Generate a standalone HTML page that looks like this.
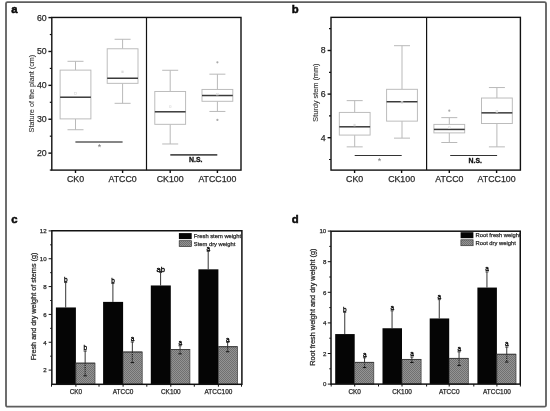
<!DOCTYPE html>
<html><head><meta charset="utf-8"><title>Figure</title>
<style>
html,body{margin:0;padding:0;background:#fff;}
svg{display:block;font-family:'Liberation Sans', Arial, sans-serif;}
</style></head><body>
<svg width="550" height="411" viewBox="0 0 550 411">
<rect width="550" height="411" fill="#fff"/>
<rect x="6.00" y="2.10" width="540.00" height="404.60" fill="#fff" stroke="#5e5e5e" stroke-width="1.8" rx="1.5"/>
<rect x="51.80" y="17.45" width="189.20" height="152.65" fill="none" stroke="#111" stroke-width="1.4" />
<line x1="146.50" y1="17.45" x2="146.50" y2="170.10" stroke="#111" stroke-width="1.2" />
<line x1="48.40" y1="17.60" x2="51.80" y2="17.60" stroke="#111" stroke-width="1.4" />
<text x="46.70" y="20.50" font-size="8.75" text-anchor="end" font-weight="normal" fill="#222" stroke="#333" stroke-width="0.25">60</text>
<line x1="48.40" y1="51.48" x2="51.80" y2="51.48" stroke="#111" stroke-width="1.4" />
<text x="46.70" y="54.38" font-size="8.75" text-anchor="end" font-weight="normal" fill="#222" stroke="#333" stroke-width="0.25">50</text>
<line x1="48.40" y1="85.36" x2="51.80" y2="85.36" stroke="#111" stroke-width="1.4" />
<text x="46.70" y="88.26" font-size="8.75" text-anchor="end" font-weight="normal" fill="#222" stroke="#333" stroke-width="0.25">40</text>
<line x1="48.40" y1="119.24" x2="51.80" y2="119.24" stroke="#111" stroke-width="1.4" />
<text x="46.70" y="122.14" font-size="8.75" text-anchor="end" font-weight="normal" fill="#222" stroke="#333" stroke-width="0.25">30</text>
<line x1="48.40" y1="153.12" x2="51.80" y2="153.12" stroke="#111" stroke-width="1.4" />
<text x="46.70" y="156.02" font-size="8.75" text-anchor="end" font-weight="normal" fill="#222" stroke="#333" stroke-width="0.25">20</text>
<line x1="49.80" y1="34.54" x2="51.80" y2="34.54" stroke="#111" stroke-width="1.2" />
<line x1="49.80" y1="68.42" x2="51.80" y2="68.42" stroke="#111" stroke-width="1.2" />
<line x1="49.80" y1="102.30" x2="51.80" y2="102.30" stroke="#111" stroke-width="1.2" />
<line x1="49.80" y1="136.18" x2="51.80" y2="136.18" stroke="#111" stroke-width="1.2" />
<line x1="49.80" y1="170.06" x2="51.80" y2="170.06" stroke="#111" stroke-width="1.2" />
<line x1="75.50" y1="170.10" x2="75.50" y2="173.00" stroke="#111" stroke-width="1.4" />
<text x="75.50" y="181.60" font-size="8.8" text-anchor="middle" font-weight="normal" fill="#222" stroke="#333" stroke-width="0.25">CK0</text>
<line x1="122.60" y1="170.10" x2="122.60" y2="173.00" stroke="#111" stroke-width="1.4" />
<text x="122.60" y="181.60" font-size="8.8" text-anchor="middle" font-weight="normal" fill="#222" stroke="#333" stroke-width="0.25">ATCC0</text>
<line x1="170.20" y1="170.10" x2="170.20" y2="173.00" stroke="#111" stroke-width="1.4" />
<text x="170.20" y="181.60" font-size="8.8" text-anchor="middle" font-weight="normal" fill="#222" stroke="#333" stroke-width="0.25">CK100</text>
<line x1="217.40" y1="170.10" x2="217.40" y2="173.00" stroke="#111" stroke-width="1.4" />
<text x="217.40" y="181.60" font-size="8.8" text-anchor="middle" font-weight="normal" fill="#222" stroke="#333" stroke-width="0.25">ATCC100</text>
<text x="33.60" y="93.60" font-size="6.9" text-anchor="middle" font-weight="normal" fill="#333" transform="rotate(-90 33.60 93.60)" textLength="77.7" lengthAdjust="spacingAndGlyphs" stroke="#444" stroke-width="0.12">Stature of the plant (cm)</text>
<line x1="75.50" y1="61.31" x2="75.50" y2="70.11" stroke="#b9b9b9" stroke-width="1.0" />
<line x1="75.50" y1="118.90" x2="75.50" y2="129.74" stroke="#b9b9b9" stroke-width="1.0" />
<line x1="67.50" y1="61.31" x2="83.50" y2="61.31" stroke="#b9b9b9" stroke-width="1.0" />
<line x1="67.50" y1="129.74" x2="83.50" y2="129.74" stroke="#b9b9b9" stroke-width="1.0" />
<rect x="60.10" y="70.11" width="30.80" height="48.79" fill="#fff" stroke="#b9b9b9" stroke-width="0.95" />
<line x1="60.10" y1="97.22" x2="90.90" y2="97.22" stroke="#3a3a3a" stroke-width="1.5" />
<rect x="74.60" y="92.59" width="1.80" height="1.80" fill="none" stroke="#dedede" stroke-width="0.6" />
<line x1="122.60" y1="39.28" x2="122.60" y2="48.77" stroke="#b9b9b9" stroke-width="1.0" />
<line x1="122.60" y1="83.33" x2="122.60" y2="103.32" stroke="#b9b9b9" stroke-width="1.0" />
<line x1="114.60" y1="39.28" x2="130.60" y2="39.28" stroke="#b9b9b9" stroke-width="1.0" />
<line x1="114.60" y1="103.32" x2="130.60" y2="103.32" stroke="#b9b9b9" stroke-width="1.0" />
<rect x="107.20" y="48.77" width="30.80" height="34.56" fill="#fff" stroke="#b9b9b9" stroke-width="0.95" />
<line x1="107.20" y1="78.25" x2="138.00" y2="78.25" stroke="#3a3a3a" stroke-width="1.5" />
<rect x="121.70" y="70.91" width="1.80" height="1.80" fill="none" stroke="#dedede" stroke-width="0.6" />
<line x1="170.20" y1="70.28" x2="170.20" y2="91.46" stroke="#b9b9b9" stroke-width="1.0" />
<line x1="170.20" y1="124.32" x2="170.20" y2="143.97" stroke="#b9b9b9" stroke-width="1.0" />
<line x1="162.20" y1="70.28" x2="178.20" y2="70.28" stroke="#b9b9b9" stroke-width="1.0" />
<line x1="162.20" y1="143.97" x2="178.20" y2="143.97" stroke="#b9b9b9" stroke-width="1.0" />
<rect x="154.80" y="91.46" width="30.80" height="32.86" fill="#fff" stroke="#b9b9b9" stroke-width="0.95" />
<line x1="154.80" y1="111.79" x2="185.60" y2="111.79" stroke="#3a3a3a" stroke-width="1.5" />
<rect x="169.30" y="105.80" width="1.80" height="1.80" fill="none" stroke="#dedede" stroke-width="0.6" />
<line x1="217.40" y1="74.18" x2="217.40" y2="89.43" stroke="#b9b9b9" stroke-width="1.0" />
<line x1="217.40" y1="101.28" x2="217.40" y2="111.45" stroke="#b9b9b9" stroke-width="1.0" />
<line x1="209.40" y1="74.18" x2="225.40" y2="74.18" stroke="#b9b9b9" stroke-width="1.0" />
<line x1="209.40" y1="111.45" x2="225.40" y2="111.45" stroke="#b9b9b9" stroke-width="1.0" />
<rect x="202.00" y="89.43" width="30.80" height="11.86" fill="#fff" stroke="#b9b9b9" stroke-width="0.95" />
<line x1="202.00" y1="95.52" x2="232.80" y2="95.52" stroke="#3a3a3a" stroke-width="1.5" />
<rect x="216.50" y="93.27" width="1.80" height="1.80" fill="none" stroke="#dedede" stroke-width="0.6" />
<circle cx="217.40" cy="62.32" r="1.1" fill="#aaa"/>
<circle cx="217.40" cy="119.92" r="1.1" fill="#aaa"/>
<line x1="75.40" y1="142.00" x2="122.60" y2="142.00" stroke="#5e5e5e" stroke-width="1.6" />
<text x="99.60" y="149.70" font-size="9" text-anchor="middle" font-weight="normal" fill="#777" >*</text>
<line x1="170.30" y1="154.90" x2="217.30" y2="154.90" stroke="#505050" stroke-width="1.6" />
<text x="195.80" y="162.20" font-size="6.9" text-anchor="middle" font-weight="bold" fill="#111" stroke="#111" stroke-width="0.3">N.S.</text>
<text x="11.30" y="12.60" font-size="11.3" text-anchor="start" font-weight="bold" fill="#0a0a0a" stroke="#0a0a0a" stroke-width="0.5">a</text>
<rect x="331.00" y="17.35" width="189.40" height="152.75" fill="none" stroke="#111" stroke-width="1.4" />
<line x1="426.60" y1="17.35" x2="426.60" y2="170.10" stroke="#111" stroke-width="1.2" />
<line x1="327.60" y1="50.50" x2="331.00" y2="50.50" stroke="#111" stroke-width="1.4" />
<text x="325.60" y="53.40" font-size="8.75" text-anchor="end" font-weight="normal" fill="#222" stroke="#333" stroke-width="0.25">8</text>
<line x1="327.60" y1="94.10" x2="331.00" y2="94.10" stroke="#111" stroke-width="1.4" />
<text x="325.60" y="97.00" font-size="8.75" text-anchor="end" font-weight="normal" fill="#222" stroke="#333" stroke-width="0.25">6</text>
<line x1="327.60" y1="137.70" x2="331.00" y2="137.70" stroke="#111" stroke-width="1.4" />
<text x="325.60" y="140.60" font-size="8.75" text-anchor="end" font-weight="normal" fill="#222" stroke="#333" stroke-width="0.25">4</text>
<line x1="329.00" y1="28.70" x2="331.00" y2="28.70" stroke="#111" stroke-width="1.2" />
<line x1="329.00" y1="72.30" x2="331.00" y2="72.30" stroke="#111" stroke-width="1.2" />
<line x1="329.00" y1="115.90" x2="331.00" y2="115.90" stroke="#111" stroke-width="1.2" />
<line x1="329.00" y1="159.50" x2="331.00" y2="159.50" stroke="#111" stroke-width="1.2" />
<line x1="354.60" y1="170.10" x2="354.60" y2="173.00" stroke="#111" stroke-width="1.4" />
<text x="354.60" y="181.60" font-size="8.8" text-anchor="middle" font-weight="normal" fill="#222" stroke="#333" stroke-width="0.25">CK0</text>
<line x1="401.60" y1="170.10" x2="401.60" y2="173.00" stroke="#111" stroke-width="1.4" />
<text x="401.60" y="181.60" font-size="8.8" text-anchor="middle" font-weight="normal" fill="#222" stroke="#333" stroke-width="0.25">CK100</text>
<line x1="449.30" y1="170.10" x2="449.30" y2="173.00" stroke="#111" stroke-width="1.4" />
<text x="449.30" y="181.60" font-size="8.8" text-anchor="middle" font-weight="normal" fill="#222" stroke="#333" stroke-width="0.25">ATCC0</text>
<line x1="496.60" y1="170.10" x2="496.60" y2="173.00" stroke="#111" stroke-width="1.4" />
<text x="496.60" y="181.60" font-size="8.8" text-anchor="middle" font-weight="normal" fill="#222" stroke="#333" stroke-width="0.25">ATCC100</text>
<text x="318.00" y="92.60" font-size="6.9" text-anchor="middle" font-weight="normal" fill="#333" transform="rotate(-90 318.00 92.60)" textLength="58.3" lengthAdjust="spacingAndGlyphs" stroke="#444" stroke-width="0.12">Sturdy stem (mm)</text>
<line x1="354.70" y1="100.64" x2="354.70" y2="112.41" stroke="#b9b9b9" stroke-width="1.0" />
<line x1="354.70" y1="135.08" x2="354.70" y2="146.86" stroke="#b9b9b9" stroke-width="1.0" />
<line x1="346.70" y1="100.64" x2="362.70" y2="100.64" stroke="#b9b9b9" stroke-width="1.0" />
<line x1="346.70" y1="146.86" x2="362.70" y2="146.86" stroke="#b9b9b9" stroke-width="1.0" />
<rect x="339.30" y="112.41" width="30.80" height="22.67" fill="#fff" stroke="#b9b9b9" stroke-width="0.95" />
<line x1="339.30" y1="126.80" x2="370.10" y2="126.80" stroke="#3a3a3a" stroke-width="1.5" />
<rect x="353.80" y="124.16" width="1.80" height="1.80" fill="none" stroke="#dedede" stroke-width="0.6" />
<line x1="402.00" y1="45.70" x2="402.00" y2="89.30" stroke="#b9b9b9" stroke-width="1.0" />
<line x1="402.00" y1="121.13" x2="402.00" y2="138.14" stroke="#b9b9b9" stroke-width="1.0" />
<line x1="394.00" y1="45.70" x2="410.00" y2="45.70" stroke="#b9b9b9" stroke-width="1.0" />
<line x1="394.00" y1="138.14" x2="410.00" y2="138.14" stroke="#b9b9b9" stroke-width="1.0" />
<rect x="386.60" y="89.30" width="30.80" height="31.83" fill="#fff" stroke="#b9b9b9" stroke-width="0.95" />
<line x1="386.60" y1="101.73" x2="417.40" y2="101.73" stroke="#3a3a3a" stroke-width="1.5" />
<rect x="401.10" y="101.48" width="1.80" height="1.80" fill="none" stroke="#dedede" stroke-width="0.6" />
<line x1="449.30" y1="117.64" x2="449.30" y2="124.40" stroke="#b9b9b9" stroke-width="1.0" />
<line x1="449.30" y1="132.90" x2="449.30" y2="142.50" stroke="#b9b9b9" stroke-width="1.0" />
<line x1="441.30" y1="117.64" x2="457.30" y2="117.64" stroke="#b9b9b9" stroke-width="1.0" />
<line x1="441.30" y1="142.50" x2="457.30" y2="142.50" stroke="#b9b9b9" stroke-width="1.0" />
<rect x="433.90" y="124.40" width="30.80" height="8.50" fill="#fff" stroke="#b9b9b9" stroke-width="0.95" />
<line x1="433.90" y1="129.42" x2="464.70" y2="129.42" stroke="#3a3a3a" stroke-width="1.5" />
<rect x="448.40" y="126.77" width="1.80" height="1.80" fill="none" stroke="#dedede" stroke-width="0.6" />
<circle cx="449.30" cy="110.67" r="1.1" fill="#aaa"/>
<line x1="496.90" y1="87.56" x2="496.90" y2="98.02" stroke="#b9b9b9" stroke-width="1.0" />
<line x1="496.90" y1="123.53" x2="496.90" y2="146.86" stroke="#b9b9b9" stroke-width="1.0" />
<line x1="488.90" y1="87.56" x2="504.90" y2="87.56" stroke="#b9b9b9" stroke-width="1.0" />
<line x1="488.90" y1="146.86" x2="504.90" y2="146.86" stroke="#b9b9b9" stroke-width="1.0" />
<rect x="481.50" y="98.02" width="30.80" height="25.51" fill="#fff" stroke="#b9b9b9" stroke-width="0.95" />
<line x1="481.50" y1="112.85" x2="512.30" y2="112.85" stroke="#3a3a3a" stroke-width="1.5" />
<rect x="496.00" y="110.64" width="1.80" height="1.80" fill="none" stroke="#dedede" stroke-width="0.6" />
<line x1="354.70" y1="155.50" x2="401.70" y2="155.50" stroke="#333" stroke-width="1.2" />
<text x="379.40" y="163.70" font-size="9" text-anchor="middle" font-weight="normal" fill="#777" >*</text>
<line x1="450.20" y1="155.50" x2="497.10" y2="155.50" stroke="#333" stroke-width="1.2" />
<text x="475.20" y="163.20" font-size="6.9" text-anchor="middle" font-weight="bold" fill="#111" stroke="#111" stroke-width="0.3">N.S.</text>
<text x="291.70" y="12.70" font-size="11.3" text-anchor="start" font-weight="bold" fill="#0a0a0a" stroke="#0a0a0a" stroke-width="0.5">b</text>
<defs><pattern id="h" width="2" height="2" patternUnits="userSpaceOnUse"><rect width="2" height="2" fill="#939393"/><rect width="1" height="1" fill="#707070"/><rect x="1" y="1" width="1" height="1" fill="#707070"/></pattern></defs>
<line x1="65.70" y1="307.46" x2="65.70" y2="282.54" stroke="#2a2a2a" stroke-width="0.95" />
<line x1="64.20" y1="282.54" x2="67.20" y2="282.54" stroke="#222" stroke-width="0.8" />
<rect x="55.90" y="307.46" width="20.00" height="76.84" fill="#050505" stroke="none" stroke-width="1" />
<text transform="translate(65.85 281.94) scale(0.8 1)" font-size="8.1" text-anchor="middle" fill="#000" stroke="#000" stroke-width="0.35">b</text>
<rect x="75.90" y="363.14" width="19.10" height="21.16" fill="url(#h)" stroke="#3a3a3a" stroke-width="0.7" />
<line x1="85.15" y1="351.03" x2="85.15" y2="363.14" stroke="#2a2a2a" stroke-width="0.95" />
<line x1="85.15" y1="363.14" x2="85.15" y2="375.85" stroke="#111" stroke-width="1.1" stroke-dasharray="1 0.9"/>
<line x1="83.55" y1="351.03" x2="86.75" y2="351.03" stroke="#222" stroke-width="0.9" />
<line x1="83.45" y1="375.85" x2="86.85" y2="375.85" stroke="#111" stroke-width="1.0" />
<line x1="75.90" y1="363.14" x2="95.00" y2="363.14" stroke="#3a3a3a" stroke-width="0.9" />
<text transform="translate(85.30 350.43) scale(0.8 1)" font-size="8.1" text-anchor="middle" fill="#000" stroke="#000" stroke-width="0.35">b</text>
<text x="75.90" y="394.30" font-size="6.45" text-anchor="middle" font-weight="normal" fill="#111" stroke="#333" stroke-width="0.25">CK0</text>
<line x1="75.90" y1="384.30" x2="75.90" y2="386.70" stroke="#111" stroke-width="1.0" />
<line x1="112.90" y1="301.89" x2="112.90" y2="283.52" stroke="#2a2a2a" stroke-width="0.95" />
<line x1="111.40" y1="283.52" x2="114.40" y2="283.52" stroke="#222" stroke-width="0.8" />
<rect x="103.10" y="301.89" width="20.00" height="82.41" fill="#050505" stroke="none" stroke-width="1" />
<text transform="translate(113.05 282.92) scale(0.8 1)" font-size="8.1" text-anchor="middle" fill="#000" stroke="#000" stroke-width="0.35">b</text>
<rect x="123.10" y="352.00" width="19.10" height="32.30" fill="url(#h)" stroke="#3a3a3a" stroke-width="0.7" />
<line x1="132.35" y1="341.98" x2="132.35" y2="352.00" stroke="#2a2a2a" stroke-width="0.95" />
<line x1="132.35" y1="352.00" x2="132.35" y2="362.63" stroke="#111" stroke-width="1.1" stroke-dasharray="1 0.9"/>
<line x1="130.75" y1="341.98" x2="133.95" y2="341.98" stroke="#222" stroke-width="0.9" />
<line x1="130.65" y1="362.63" x2="134.05" y2="362.63" stroke="#111" stroke-width="1.0" />
<line x1="123.10" y1="352.00" x2="142.20" y2="352.00" stroke="#3a3a3a" stroke-width="0.9" />
<text transform="translate(132.50 341.38) scale(0.8 1)" font-size="8.1" text-anchor="middle" fill="#000" stroke="#000" stroke-width="0.35">a</text>
<text x="123.10" y="394.30" font-size="6.45" text-anchor="middle" font-weight="normal" fill="#111" stroke="#333" stroke-width="0.25">ATCC0</text>
<line x1="123.10" y1="384.30" x2="123.10" y2="386.70" stroke="#111" stroke-width="1.0" />
<line x1="160.60" y1="285.47" x2="160.60" y2="272.52" stroke="#2a2a2a" stroke-width="0.95" />
<line x1="159.10" y1="272.52" x2="162.10" y2="272.52" stroke="#222" stroke-width="0.8" />
<rect x="150.80" y="285.47" width="20.00" height="98.83" fill="#050505" stroke="none" stroke-width="1" />
<text transform="translate(160.75 271.92) scale(0.95 1)" font-size="8.1" text-anchor="middle" fill="#000" stroke="#000" stroke-width="0.35">ab</text>
<rect x="170.80" y="349.50" width="19.10" height="34.80" fill="url(#h)" stroke="#3a3a3a" stroke-width="0.7" />
<line x1="180.05" y1="345.74" x2="180.05" y2="349.50" stroke="#2a2a2a" stroke-width="0.95" />
<line x1="180.05" y1="349.50" x2="180.05" y2="353.86" stroke="#111" stroke-width="1.1" stroke-dasharray="1 0.9"/>
<line x1="178.45" y1="345.74" x2="181.65" y2="345.74" stroke="#222" stroke-width="0.9" />
<line x1="178.35" y1="353.86" x2="181.75" y2="353.86" stroke="#111" stroke-width="1.0" />
<line x1="170.80" y1="349.50" x2="189.90" y2="349.50" stroke="#3a3a3a" stroke-width="0.9" />
<text transform="translate(180.20 345.14) scale(0.8 1)" font-size="8.1" text-anchor="middle" fill="#000" stroke="#000" stroke-width="0.35">a</text>
<text x="170.80" y="394.30" font-size="6.45" text-anchor="middle" font-weight="normal" fill="#111" stroke="#333" stroke-width="0.25">CK100</text>
<line x1="170.80" y1="384.30" x2="170.80" y2="386.70" stroke="#111" stroke-width="1.0" />
<line x1="208.20" y1="269.32" x2="208.20" y2="251.36" stroke="#2a2a2a" stroke-width="0.95" />
<line x1="206.70" y1="251.36" x2="209.70" y2="251.36" stroke="#222" stroke-width="0.8" />
<rect x="198.40" y="269.32" width="20.00" height="114.98" fill="#050505" stroke="none" stroke-width="1" />
<text transform="translate(208.35 250.76) scale(0.8 1)" font-size="8.1" text-anchor="middle" fill="#000" stroke="#000" stroke-width="0.35">a</text>
<rect x="218.40" y="346.71" width="19.10" height="37.59" fill="url(#h)" stroke="#3a3a3a" stroke-width="0.7" />
<line x1="227.65" y1="342.26" x2="227.65" y2="346.71" stroke="#2a2a2a" stroke-width="0.95" />
<line x1="227.65" y1="346.71" x2="227.65" y2="351.77" stroke="#111" stroke-width="1.1" stroke-dasharray="1 0.9"/>
<line x1="226.05" y1="342.26" x2="229.25" y2="342.26" stroke="#222" stroke-width="0.9" />
<line x1="225.95" y1="351.77" x2="229.35" y2="351.77" stroke="#111" stroke-width="1.0" />
<line x1="218.40" y1="346.71" x2="237.50" y2="346.71" stroke="#3a3a3a" stroke-width="0.9" />
<text transform="translate(227.80 341.66) scale(0.8 1)" font-size="8.1" text-anchor="middle" fill="#000" stroke="#000" stroke-width="0.35">a</text>
<text x="218.40" y="394.30" font-size="6.45" text-anchor="middle" font-weight="normal" fill="#111" stroke="#333" stroke-width="0.25">ATCC100</text>
<line x1="218.40" y1="384.30" x2="218.40" y2="386.70" stroke="#111" stroke-width="1.0" />
<rect x="51.85" y="230.75" width="190.05" height="153.55" fill="none" stroke="#111" stroke-width="1.5" />
<line x1="48.65" y1="230.90" x2="51.85" y2="230.90" stroke="#111" stroke-width="1.0" />
<text x="46.60" y="233.15" font-size="6.15" text-anchor="end" font-weight="normal" fill="#111" stroke="#333" stroke-width="0.25">12</text>
<line x1="48.65" y1="258.74" x2="51.85" y2="258.74" stroke="#111" stroke-width="1.0" />
<text x="46.60" y="260.99" font-size="6.15" text-anchor="end" font-weight="normal" fill="#111" stroke="#333" stroke-width="0.25">10</text>
<line x1="48.65" y1="286.58" x2="51.85" y2="286.58" stroke="#111" stroke-width="1.0" />
<text x="46.60" y="288.83" font-size="6.15" text-anchor="end" font-weight="normal" fill="#111" stroke="#333" stroke-width="0.25">8</text>
<line x1="48.65" y1="314.42" x2="51.85" y2="314.42" stroke="#111" stroke-width="1.0" />
<text x="46.60" y="316.67" font-size="6.15" text-anchor="end" font-weight="normal" fill="#111" stroke="#333" stroke-width="0.25">6</text>
<line x1="48.65" y1="342.26" x2="51.85" y2="342.26" stroke="#111" stroke-width="1.0" />
<text x="46.60" y="344.51" font-size="6.15" text-anchor="end" font-weight="normal" fill="#111" stroke="#333" stroke-width="0.25">4</text>
<line x1="48.65" y1="370.10" x2="51.85" y2="370.10" stroke="#111" stroke-width="1.0" />
<text x="46.60" y="372.35" font-size="6.15" text-anchor="end" font-weight="normal" fill="#111" stroke="#333" stroke-width="0.25">2</text>
<line x1="50.05" y1="244.82" x2="51.85" y2="244.82" stroke="#111" stroke-width="0.9" />
<line x1="50.05" y1="272.66" x2="51.85" y2="272.66" stroke="#111" stroke-width="0.9" />
<line x1="50.05" y1="300.50" x2="51.85" y2="300.50" stroke="#111" stroke-width="0.9" />
<line x1="50.05" y1="328.34" x2="51.85" y2="328.34" stroke="#111" stroke-width="0.9" />
<line x1="50.05" y1="356.18" x2="51.85" y2="356.18" stroke="#111" stroke-width="0.9" />
<line x1="51.50" y1="384.30" x2="51.50" y2="386.70" stroke="#111" stroke-width="1.0" />
<line x1="99.00" y1="384.30" x2="99.00" y2="386.70" stroke="#111" stroke-width="1.0" />
<line x1="146.80" y1="384.30" x2="146.80" y2="386.70" stroke="#111" stroke-width="1.0" />
<line x1="194.30" y1="384.30" x2="194.30" y2="386.70" stroke="#111" stroke-width="1.0" />
<line x1="241.50" y1="384.30" x2="241.50" y2="386.70" stroke="#111" stroke-width="1.0" />
<text x="36.30" y="306.50" font-size="6.5" text-anchor="middle" font-weight="normal" fill="#222" transform="rotate(-90 36.30 306.50)" textLength="107.7" lengthAdjust="spacingAndGlyphs" stroke="#333" stroke-width="0.25">Fresh and dry weight of stems (g)</text>
<rect x="178.90" y="233.10" width="12.80" height="6.00" fill="#050505" stroke="none" stroke-width="1" />
<rect x="179.20" y="240.70" width="12.20" height="5.90" fill="url(#h)" stroke="#333" stroke-width="0.7" />
<text x="193.80" y="238.10" font-size="5.8" text-anchor="start" font-weight="normal" fill="#111" stroke="#333" stroke-width="0.25">Fresh stem weight</text>
<text x="193.80" y="245.50" font-size="5.8" text-anchor="start" font-weight="normal" fill="#111" stroke="#333" stroke-width="0.25">Stem dry weight</text>
<text x="11.30" y="223.20" font-size="11.3" text-anchor="start" font-weight="bold" fill="#0a0a0a" stroke="#0a0a0a" stroke-width="0.5">c</text>
<line x1="344.75" y1="334.07" x2="344.75" y2="312.34" stroke="#2a2a2a" stroke-width="0.95" />
<line x1="343.25" y1="312.34" x2="346.25" y2="312.34" stroke="#222" stroke-width="0.8" />
<rect x="335.20" y="334.07" width="19.50" height="50.03" fill="#050505" stroke="none" stroke-width="1" />
<text transform="translate(344.90 311.74) scale(0.8 1)" font-size="8.1" text-anchor="middle" fill="#000" stroke="#000" stroke-width="0.35">b</text>
<rect x="354.70" y="362.37" width="19.10" height="21.73" fill="url(#h)" stroke="#3a3a3a" stroke-width="0.7" />
<line x1="364.55" y1="357.78" x2="364.55" y2="362.37" stroke="#2a2a2a" stroke-width="0.95" />
<line x1="364.55" y1="362.37" x2="364.55" y2="367.56" stroke="#111" stroke-width="1.1" stroke-dasharray="1 0.9"/>
<line x1="362.95" y1="357.78" x2="366.15" y2="357.78" stroke="#222" stroke-width="0.9" />
<line x1="362.85" y1="367.56" x2="366.25" y2="367.56" stroke="#111" stroke-width="1.0" />
<line x1="354.70" y1="362.37" x2="373.80" y2="362.37" stroke="#3a3a3a" stroke-width="0.9" />
<text transform="translate(364.70 357.18) scale(0.8 1)" font-size="8.1" text-anchor="middle" fill="#000" stroke="#000" stroke-width="0.35">a</text>
<text x="354.70" y="394.10" font-size="6.45" text-anchor="middle" font-weight="normal" fill="#111" stroke="#333" stroke-width="0.25">CK0</text>
<line x1="354.70" y1="384.10" x2="354.70" y2="386.50" stroke="#111" stroke-width="1.0" />
<line x1="392.05" y1="328.25" x2="392.05" y2="310.81" stroke="#2a2a2a" stroke-width="0.95" />
<line x1="390.55" y1="310.81" x2="393.55" y2="310.81" stroke="#222" stroke-width="0.8" />
<rect x="382.50" y="328.25" width="19.50" height="55.85" fill="#050505" stroke="none" stroke-width="1" />
<text transform="translate(392.20 310.21) scale(0.8 1)" font-size="8.1" text-anchor="middle" fill="#000" stroke="#000" stroke-width="0.35">a</text>
<rect x="402.00" y="359.47" width="19.10" height="24.63" fill="url(#h)" stroke="#3a3a3a" stroke-width="0.7" />
<line x1="411.85" y1="357.02" x2="411.85" y2="359.47" stroke="#2a2a2a" stroke-width="0.95" />
<line x1="411.85" y1="359.47" x2="411.85" y2="362.52" stroke="#111" stroke-width="1.1" stroke-dasharray="1 0.9"/>
<line x1="410.25" y1="357.02" x2="413.45" y2="357.02" stroke="#222" stroke-width="0.9" />
<line x1="410.15" y1="362.52" x2="413.55" y2="362.52" stroke="#111" stroke-width="1.0" />
<line x1="402.00" y1="359.47" x2="421.10" y2="359.47" stroke="#3a3a3a" stroke-width="0.9" />
<text transform="translate(412.00 356.42) scale(0.8 1)" font-size="8.1" text-anchor="middle" fill="#000" stroke="#000" stroke-width="0.35">a</text>
<text x="402.00" y="394.10" font-size="6.45" text-anchor="middle" font-weight="normal" fill="#111" stroke="#333" stroke-width="0.25">CK100</text>
<line x1="402.00" y1="384.10" x2="402.00" y2="386.50" stroke="#111" stroke-width="1.0" />
<line x1="439.25" y1="318.46" x2="439.25" y2="299.64" stroke="#2a2a2a" stroke-width="0.95" />
<line x1="437.75" y1="299.64" x2="440.75" y2="299.64" stroke="#222" stroke-width="0.8" />
<rect x="429.70" y="318.46" width="19.50" height="65.64" fill="#050505" stroke="none" stroke-width="1" />
<text transform="translate(439.40 299.04) scale(0.8 1)" font-size="8.1" text-anchor="middle" fill="#000" stroke="#000" stroke-width="0.35">a</text>
<rect x="449.20" y="358.40" width="19.10" height="25.70" fill="url(#h)" stroke="#3a3a3a" stroke-width="0.7" />
<line x1="459.05" y1="351.82" x2="459.05" y2="358.40" stroke="#2a2a2a" stroke-width="0.95" />
<line x1="459.05" y1="358.40" x2="459.05" y2="365.58" stroke="#111" stroke-width="1.1" stroke-dasharray="1 0.9"/>
<line x1="457.45" y1="351.82" x2="460.65" y2="351.82" stroke="#222" stroke-width="0.9" />
<line x1="457.35" y1="365.58" x2="460.75" y2="365.58" stroke="#111" stroke-width="1.0" />
<line x1="449.20" y1="358.40" x2="468.30" y2="358.40" stroke="#3a3a3a" stroke-width="0.9" />
<text transform="translate(459.20 351.22) scale(0.8 1)" font-size="8.1" text-anchor="middle" fill="#000" stroke="#000" stroke-width="0.35">a</text>
<text x="449.20" y="394.10" font-size="6.45" text-anchor="middle" font-weight="normal" fill="#111" stroke="#333" stroke-width="0.25">ATCC0</text>
<line x1="449.20" y1="384.10" x2="449.20" y2="386.50" stroke="#111" stroke-width="1.0" />
<line x1="486.95" y1="287.56" x2="486.95" y2="271.95" stroke="#2a2a2a" stroke-width="0.95" />
<line x1="485.45" y1="271.95" x2="488.45" y2="271.95" stroke="#222" stroke-width="0.8" />
<rect x="477.40" y="287.56" width="19.50" height="96.54" fill="#050505" stroke="none" stroke-width="1" />
<text transform="translate(487.10 271.35) scale(0.8 1)" font-size="8.1" text-anchor="middle" fill="#000" stroke="#000" stroke-width="0.35">a</text>
<rect x="496.90" y="354.26" width="19.10" height="29.84" fill="url(#h)" stroke="#3a3a3a" stroke-width="0.7" />
<line x1="506.75" y1="347.07" x2="506.75" y2="354.26" stroke="#2a2a2a" stroke-width="0.95" />
<line x1="506.75" y1="354.26" x2="506.75" y2="362.06" stroke="#111" stroke-width="1.1" stroke-dasharray="1 0.9"/>
<line x1="505.15" y1="347.07" x2="508.35" y2="347.07" stroke="#222" stroke-width="0.9" />
<line x1="505.05" y1="362.06" x2="508.45" y2="362.06" stroke="#111" stroke-width="1.0" />
<line x1="496.90" y1="354.26" x2="516.00" y2="354.26" stroke="#3a3a3a" stroke-width="0.9" />
<text transform="translate(506.90 346.47) scale(0.8 1)" font-size="8.1" text-anchor="middle" fill="#000" stroke="#000" stroke-width="0.35">a</text>
<text x="496.90" y="394.10" font-size="6.45" text-anchor="middle" font-weight="normal" fill="#111" stroke="#333" stroke-width="0.25">ATCC100</text>
<line x1="496.90" y1="384.10" x2="496.90" y2="386.50" stroke="#111" stroke-width="1.0" />
<rect x="331.00" y="231.20" width="189.25" height="152.90" fill="none" stroke="#111" stroke-width="1.5" />
<line x1="327.80" y1="231.10" x2="331.00" y2="231.10" stroke="#111" stroke-width="1.0" />
<text x="326.30" y="233.35" font-size="6.15" text-anchor="end" font-weight="normal" fill="#111" stroke="#333" stroke-width="0.25">10</text>
<line x1="327.80" y1="261.70" x2="331.00" y2="261.70" stroke="#111" stroke-width="1.0" />
<text x="326.30" y="263.95" font-size="6.15" text-anchor="end" font-weight="normal" fill="#111" stroke="#333" stroke-width="0.25">8</text>
<line x1="327.80" y1="292.30" x2="331.00" y2="292.30" stroke="#111" stroke-width="1.0" />
<text x="326.30" y="294.55" font-size="6.15" text-anchor="end" font-weight="normal" fill="#111" stroke="#333" stroke-width="0.25">6</text>
<line x1="327.80" y1="322.90" x2="331.00" y2="322.90" stroke="#111" stroke-width="1.0" />
<text x="326.30" y="325.15" font-size="6.15" text-anchor="end" font-weight="normal" fill="#111" stroke="#333" stroke-width="0.25">4</text>
<line x1="327.80" y1="353.50" x2="331.00" y2="353.50" stroke="#111" stroke-width="1.0" />
<text x="326.30" y="355.75" font-size="6.15" text-anchor="end" font-weight="normal" fill="#111" stroke="#333" stroke-width="0.25">2</text>
<line x1="327.80" y1="384.10" x2="331.00" y2="384.10" stroke="#111" stroke-width="1.0" />
<text x="326.30" y="386.35" font-size="6.15" text-anchor="end" font-weight="normal" fill="#111" stroke="#333" stroke-width="0.25">0</text>
<line x1="329.20" y1="246.40" x2="331.00" y2="246.40" stroke="#111" stroke-width="0.9" />
<line x1="329.20" y1="277.00" x2="331.00" y2="277.00" stroke="#111" stroke-width="0.9" />
<line x1="329.20" y1="307.60" x2="331.00" y2="307.60" stroke="#111" stroke-width="0.9" />
<line x1="329.20" y1="338.20" x2="331.00" y2="338.20" stroke="#111" stroke-width="0.9" />
<line x1="329.20" y1="368.80" x2="331.00" y2="368.80" stroke="#111" stroke-width="0.9" />
<line x1="331.20" y1="384.10" x2="331.20" y2="386.50" stroke="#111" stroke-width="1.0" />
<line x1="378.50" y1="384.10" x2="378.50" y2="386.50" stroke="#111" stroke-width="1.0" />
<line x1="426.60" y1="384.10" x2="426.60" y2="386.50" stroke="#111" stroke-width="1.0" />
<line x1="473.80" y1="384.10" x2="473.80" y2="386.50" stroke="#111" stroke-width="1.0" />
<line x1="520.40" y1="384.10" x2="520.40" y2="386.50" stroke="#111" stroke-width="1.0" />
<text x="315.30" y="307.20" font-size="6.5" text-anchor="middle" font-weight="normal" fill="#222" transform="rotate(-90 315.30 307.20)" textLength="117.3" lengthAdjust="spacingAndGlyphs" stroke="#333" stroke-width="0.25">Root fresh weight and dry weight (g)</text>
<rect x="460.60" y="232.20" width="12.80" height="6.00" fill="#050505" stroke="none" stroke-width="1" />
<rect x="460.90" y="239.80" width="12.20" height="5.90" fill="url(#h)" stroke="#333" stroke-width="0.7" />
<text x="475.50" y="237.20" font-size="5.8" text-anchor="start" font-weight="normal" fill="#111" stroke="#333" stroke-width="0.25">Root fresh weight</text>
<text x="475.50" y="244.60" font-size="5.8" text-anchor="start" font-weight="normal" fill="#111" stroke="#333" stroke-width="0.25">Root dry weight</text>
<text x="291.80" y="223.20" font-size="11.3" text-anchor="start" font-weight="bold" fill="#0a0a0a" stroke="#0a0a0a" stroke-width="0.5">d</text>
</svg>
</body></html>
